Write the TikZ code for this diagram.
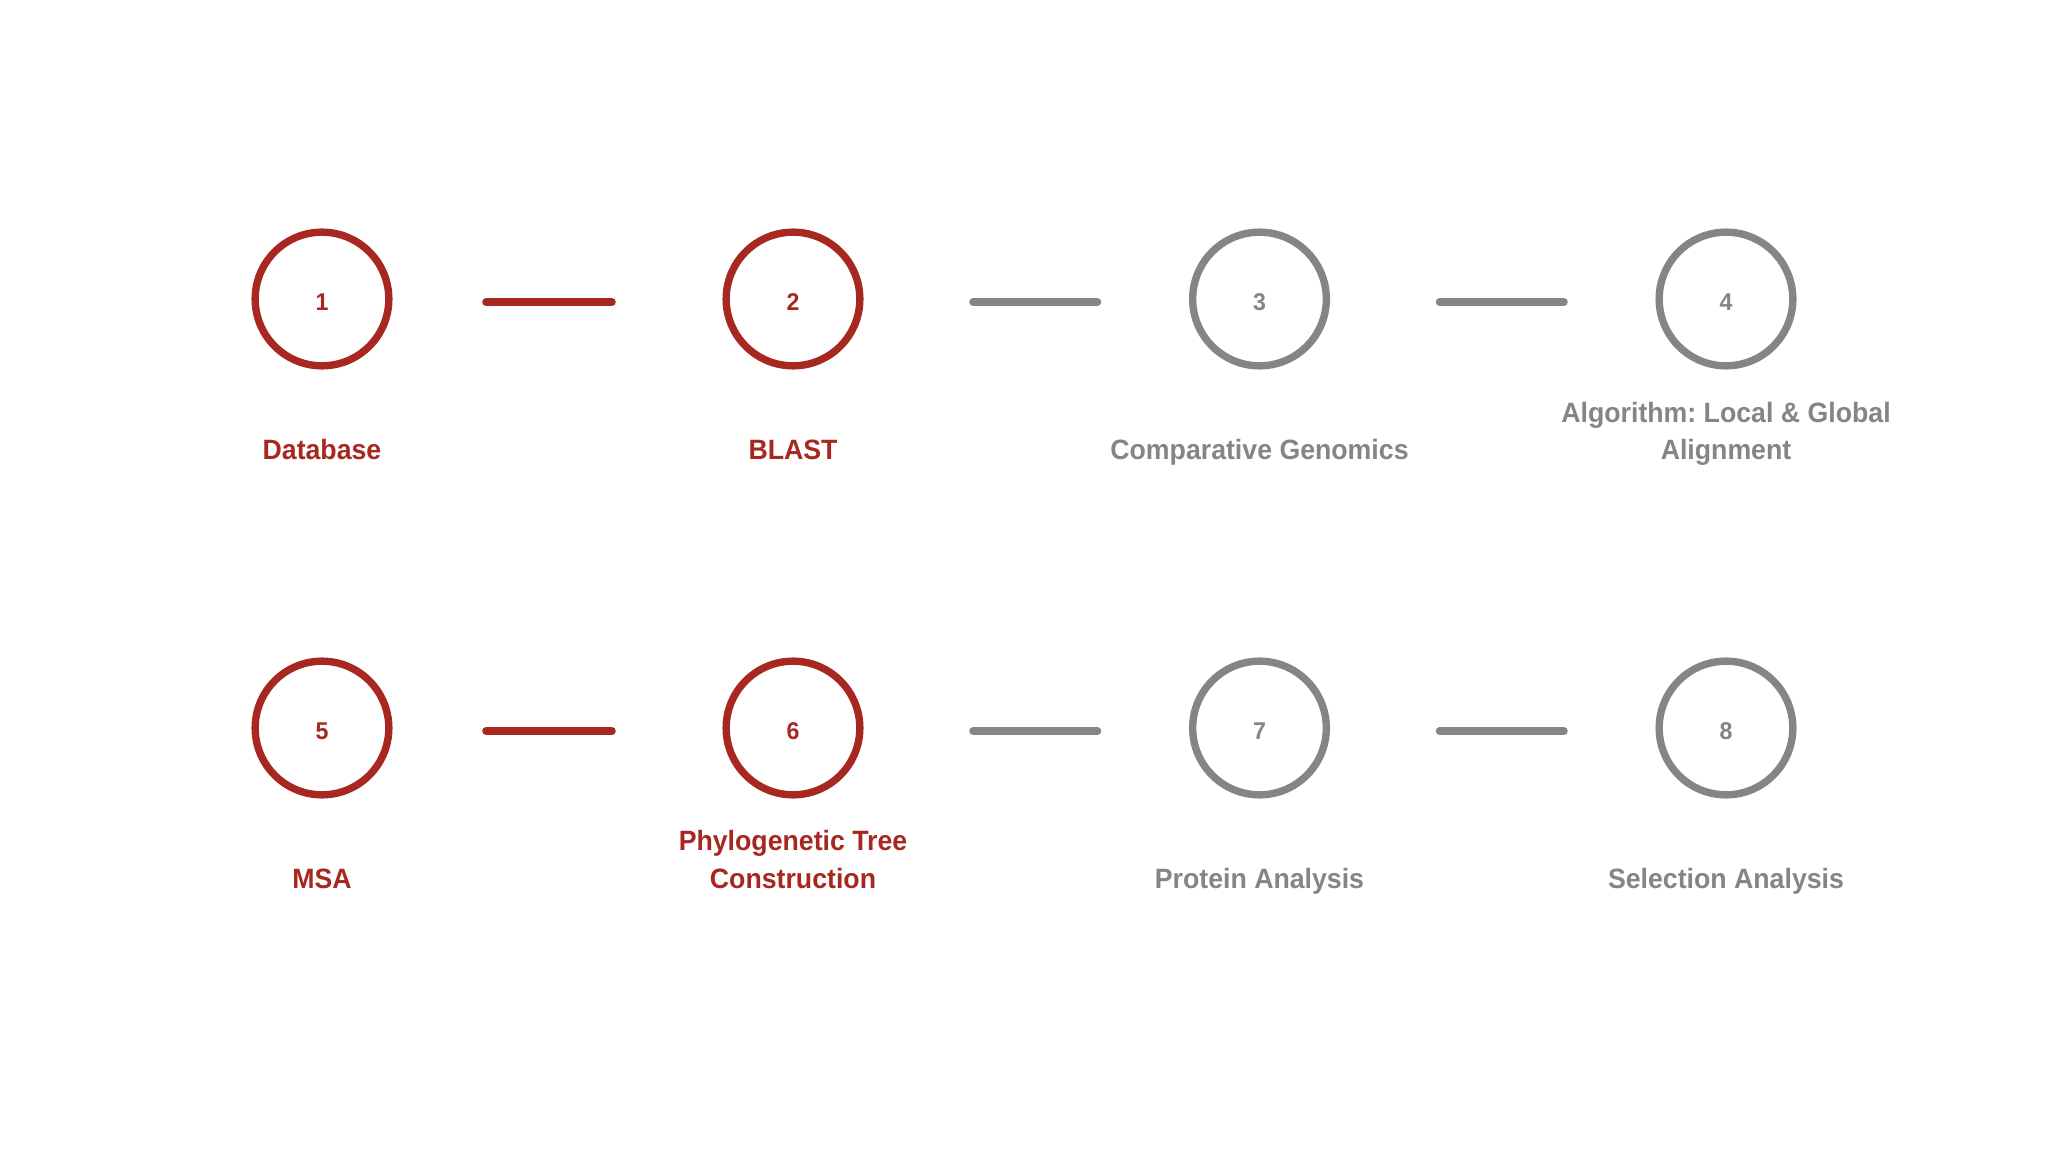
\documentclass[tikz,border=0pt]{standalone}
\usepackage{fontspec}
\setmainfont[FakeStretch=0.955]{Liberation Sans}
\frenchspacing
\definecolor{stepred}{RGB}{167,40,32}
\definecolor{stepgray}{RGB}{133,132,135}
\newcommand\lblfont{\bfseries\fontsize{7.95}{10.8}\selectfont}
\newcommand\numfont{\bfseries\fontsize{6.9}{7}\selectfont}
\newcommand\stepnum[1]{\raisebox{-0.8pt}[\height][\depth]{#1}}
\tikzset{
  stepcirc/.style={circle, draw=#1, line width=2.1pt, minimum size=1.336cm, inner sep=0pt, text=#1, font=\numfont},
  steplbl/.style={text=#1, font=\lblfont, align=center, anchor=base, inner sep=0pt},
  linkA/.style={draw=#1, line width=2.2pt, line cap=round, shorten <=1.64cm, shorten >=1.81cm},
  linkB/.style={draw=#1, line width=2.2pt, line cap=round, shorten <=1.80cm, shorten >=1.62cm}
}
\begin{document}
\begin{tikzpicture}[x=0.01cm, y=-0.01cm]
\fill[white] (0,0) rectangle (2048,1152);
\useasboundingbox (0,0) rectangle (2048,1152);
% row 1
\node[stepcirc=stepred]  (c1) at (322,299)    {\stepnum{1}};
\node[stepcirc=stepred]  (c2) at (793,299)    {\stepnum{2}};
\node[stepcirc=stepgray] (c3) at (1259.5,299) {\stepnum{3}};
\node[stepcirc=stepgray] (c4) at (1726,299)   {\stepnum{4}};
% row 2
\node[stepcirc=stepred]  (c5) at (322,728)    {\stepnum{5}};
\node[stepcirc=stepred]  (c6) at (793,728)    {\stepnum{6}};
\node[stepcirc=stepgray] (c7) at (1259.5,728) {\stepnum{7}};
\node[stepcirc=stepgray] (c8) at (1726,728)   {\stepnum{8}};
% labels
\node[steplbl=stepred]  (l1) at (322,460)    {Database};
\node[steplbl=stepred]  (l2) at (793,460)    {BLAST};
\node[steplbl=stepgray] (l3) at (1259.5,460) {Comparative Genomics};
\node[steplbl=stepgray] (l4) at (1726,460)   {Algorithm: Local \& Global\\Alignment};
\node[steplbl=stepred]  (l5) at (322,888)    {MSA};
\node[steplbl=stepred]  (l6) at (793,888)    {Phylogenetic Tree\\Construction};
\node[steplbl=stepgray] (l7) at (1259.5,888) {Protein Analysis};
\node[steplbl=stepgray] (l8) at (1726,888)   {Selection Analysis};
% connectors
\draw[linkA=stepred]  ([yshift=-0.03cm]c1.center) -- ([yshift=-0.03cm]c2.center);
\draw[linkB=stepgray] ([yshift=-0.03cm]c2.center) -- ([yshift=-0.03cm]c3.center);
\draw[linkB=stepgray] ([yshift=-0.03cm]c3.center) -- ([yshift=-0.03cm]c4.center);
\draw[linkA=stepred]  ([yshift=-0.03cm]c5.center) -- ([yshift=-0.03cm]c6.center);
\draw[linkB=stepgray] ([yshift=-0.03cm]c6.center) -- ([yshift=-0.03cm]c7.center);
\draw[linkB=stepgray] ([yshift=-0.03cm]c7.center) -- ([yshift=-0.03cm]c8.center);
\end{tikzpicture}
\end{document}
